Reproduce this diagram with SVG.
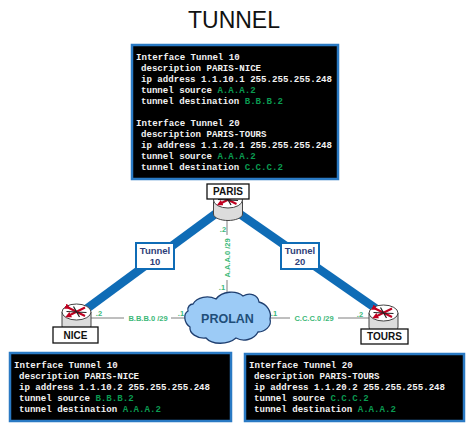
<svg xmlns="http://www.w3.org/2000/svg" width="474" height="434" viewBox="0 0 474 434">
<style>
.t{font-family:"Liberation Sans",Arial,sans-serif}
.cfg{fill:#000;stroke:#2a7ac4;stroke-width:2.5}
.m{font-family:"Liberation Mono","Courier New",monospace;font-size:9.1px;font-weight:bold;fill:#f2f2f2;white-space:pre}
.g{fill:#0a9a50}
.lab{fill:#fff;stroke:#111;stroke-width:1.3}
.ln{font-family:"Liberation Sans",Arial,sans-serif;font-size:10px;font-weight:bold;fill:#111;text-anchor:middle}
.net{font-family:"Liberation Sans",Arial,sans-serif;font-size:7.500px;font-weight:bold;fill:#3cb878;text-anchor:middle}
.tb{fill:#fff;stroke:#0f6cb6;stroke-width:2}
.tt{font-family:"Liberation Sans",Arial,sans-serif;font-size:9.500px;font-weight:bold;fill:#2f3f7a;text-anchor:middle}
.thin{stroke:#7f7f7f;stroke-width:1;fill:none}
.thick{stroke:#0f6cb6;stroke-width:8.500;fill:none}
</style>
<defs>
<marker id="ra" markerUnits="userSpaceOnUse" markerWidth="6" markerHeight="6" refX="3" refY="3" orient="auto"><path d="M0 0L6 3L0 6Z" fill="#c00020"/></marker>
<g id="router">
<path d="M-14.500 -6V8C-14.500 12 -7 14.500 0 14.500S14.500 12 14.500 8V-6Z" fill="#dcdcdc" stroke="#444" stroke-width="1"/>
<ellipse cx="0" cy="-6" rx="14.500" ry="8" fill="#fff" stroke="#444" stroke-width="1"/>
<path d="M-8.500 -10.500L8.500 -2M8.500 -10.500L-8.500 -2" stroke="#c00020" stroke-width="2" fill="none" marker-start="url(#ra)" marker-end="url(#ra)"/>
<path d="M-10 -6.500L10 -5.500M-3 -11.500L3 -1" stroke="#222" stroke-width="1.200" fill="none"/>
</g>
</defs>
<text class="t" x="234" y="27.500" font-size="23" text-anchor="middle" fill="#111">TUNNEL</text>
<g id="connectors">
<path class="thick" d="M218 212L85 310"/>
<path class="thick" d="M237 212L378 310"/>
<path class="thin" d="M227 220V235M227 280V292"/>
<path class="thin" d="M91 318H124M171 318H185"/>
<path class="thin" d="M270 318H290M338 318H369"/>
<text class="net" transform="translate(229.500 258) rotate(-90)">A.A.A.0 /29</text>
<text class="net" x="148" y="321">B.B.B.0 /29</text>
<text class="net" x="314" y="321">C.C.C.0 /29</text>
<text class="net" x="223" y="232">.2</text>
<text class="net" x="222" y="290">.1</text>
<text class="net" x="181" y="316">.1</text>
<text class="net" x="274" y="316">.1</text>
<text class="net" x="99" y="316">.2</text>
<text class="net" x="360" y="317">.2</text>
</g>
<g id="cfg-paris">
<rect class="cfg" x="132" y="45" width="206" height="134"/>
<text class="m" x="136" y="60">Interface Tunnel 10</text>
<text class="m" x="141" y="71">description PARIS-NICE</text>
<text class="m" x="141" y="82">ip address 1.1.10.1 255.255.255.248</text>
<text class="m" x="141" y="93">tunnel source <tspan class="g">A.A.A.2</tspan></text>
<text class="m" x="141" y="104">tunnel destination <tspan class="g">B.B.B.2</tspan></text>
<text class="m" x="136" y="126">Interface Tunnel 20</text>
<text class="m" x="141" y="137">description PARIS-TOURS</text>
<text class="m" x="141" y="148">ip address 1.1.20.1 255.255.255.248</text>
<text class="m" x="141" y="159">tunnel source <tspan class="g">A.A.A.2</tspan></text>
<text class="m" x="141" y="170">tunnel destination <tspan class="g">C.C.C.2</tspan></text>
</g>
<g id="cfg-nice">
<rect class="cfg" x="10" y="353" width="221" height="68"/>
<text class="m" x="14" y="368">Interface Tunnel 10</text>
<text class="m" x="19" y="379">description PARIS-NICE</text>
<text class="m" x="19" y="390">ip address 1.1.10.2 255.255.255.248</text>
<text class="m" x="19" y="401">tunnel source <tspan class="g">B.B.B.2</tspan></text>
<text class="m" x="19" y="412">tunnel destination <tspan class="g">A.A.A.2</tspan></text>
</g>
<g id="cfg-tours">
<rect class="cfg" x="245" y="354" width="219" height="67"/>
<text class="m" x="249" y="368">Interface Tunnel 20</text>
<text class="m" x="254" y="379">description PARIS-TOURS</text>
<text class="m" x="254" y="390">ip address 1.1.20.2 255.255.255.248</text>
<text class="m" x="254" y="401">tunnel source <tspan class="g">C.C.C.2</tspan></text>
<text class="m" x="254" y="412">tunnel destination <tspan class="g">A.A.A.2</tspan></text>
</g>
<g id="paris">
<use href="#router" x="228" y="206"/>
<rect class="lab" x="207" y="184" width="42" height="15"/>
<text class="ln" x="228" y="195">PARIS</text>
</g>
<g id="nice">
<use href="#router" x="76.500" y="318"/>
<rect class="lab" x="53" y="327" width="45" height="16"/>
<text class="ln" x="75.500" y="339">NICE</text>
</g>
<g id="tours">
<use href="#router" x="383.500" y="319"/>
<rect class="lab" x="361" y="329" width="47" height="15"/>
<text class="ln" x="384.500" y="340">TOURS</text>
</g>
<g id="tunnel10">
<rect class="tb" x="136" y="243" width="38" height="26"/>
<text class="tt" x="155" y="254">Tunnel</text>
<text class="tt" x="155" y="265">10</text>
</g>
<g id="tunnel20">
<rect class="tb" x="281" y="243" width="38" height="26"/>
<text class="tt" x="300" y="254">Tunnel</text>
<text class="tt" x="300" y="265">20</text>
</g>
<g id="prolan">
<path d="M193 304C197 297 208 295 216 299C222 291 236 290 243 296C250 292 258 295 259 302C267 304 272 312 270 319C272 326 265 332 258 332C254 340 243 342 236 338C228 345 212 345 206 338C197 339 189 333 190 327C184 323 183 314 188 311C187 307 190 304 193 304Z" fill="#9ccbf6" stroke="#1f3f70" stroke-width="1.300"/>
<text x="227.500" y="323" font-family="Liberation Sans, Arial, sans-serif" font-size="12.500" font-weight="bold" fill="#1f4e79" text-anchor="middle">PROLAN</text>
</g>
</svg>
